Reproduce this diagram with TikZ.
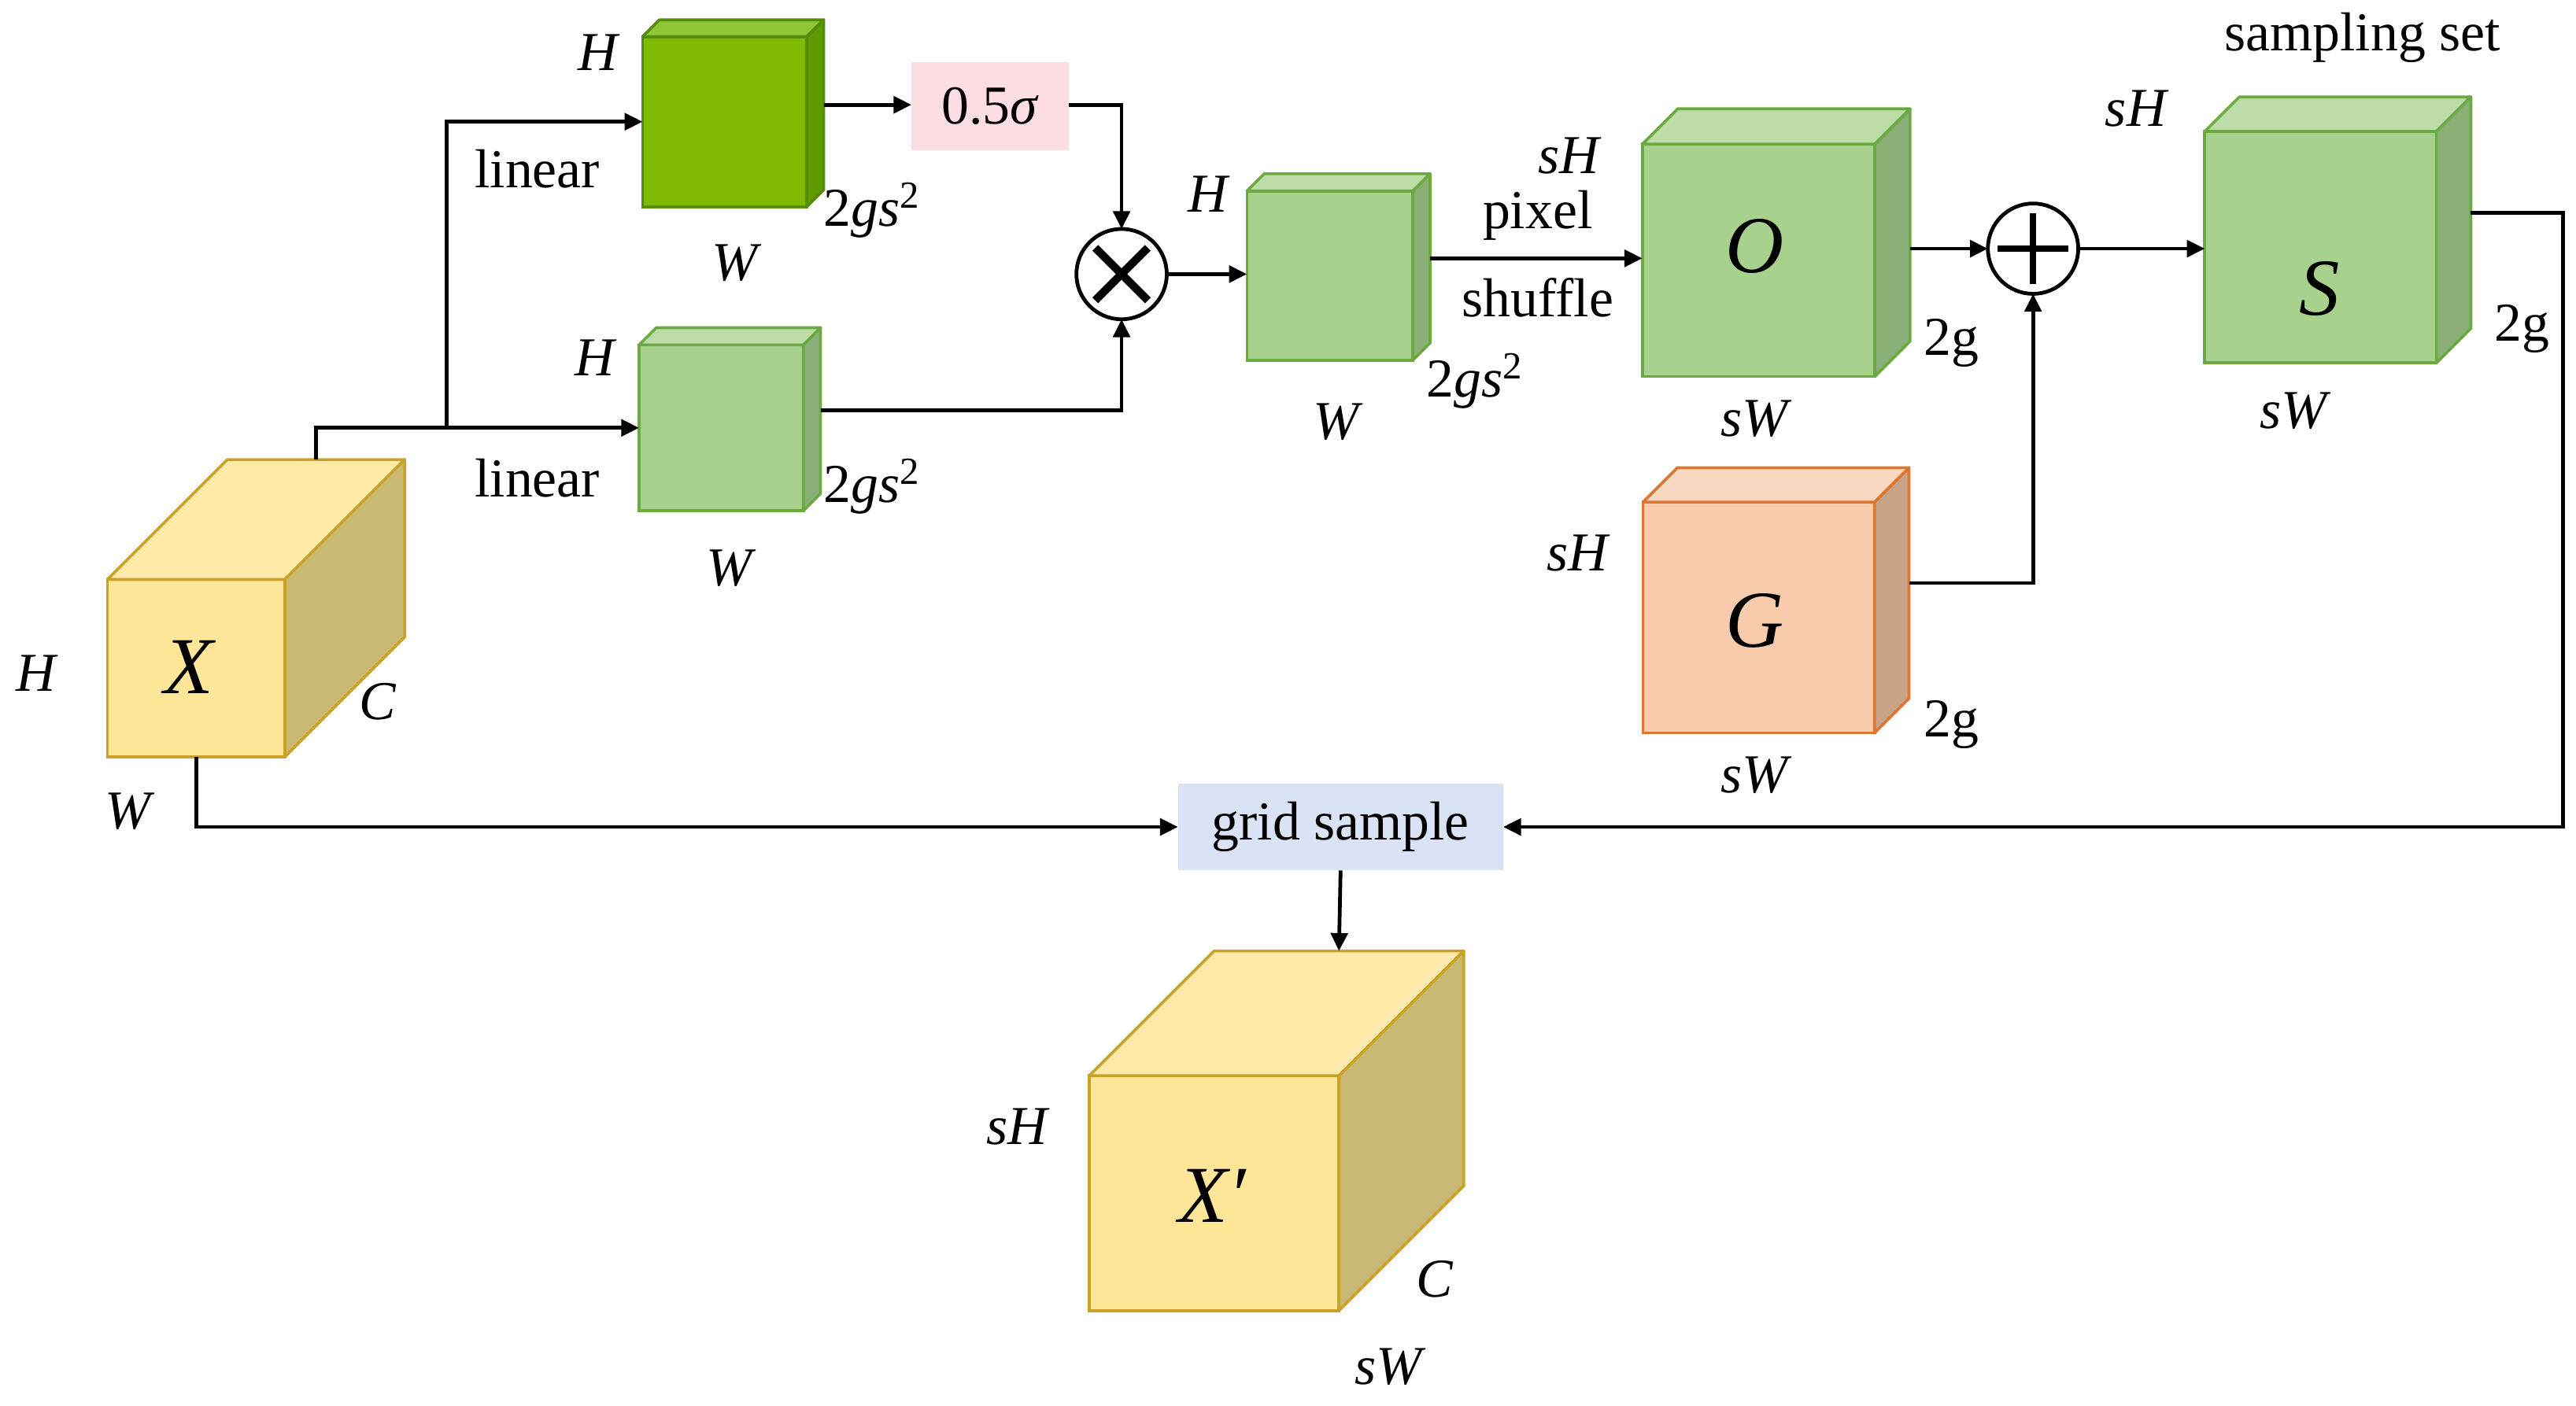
\documentclass[tikz,border=0pt]{standalone}
\usepackage{fontspec}
\setmainfont{Liberation Serif}
\usetikzlibrary{arrows.meta}

\definecolor{yfront}{HTML}{FFE699}
\definecolor{ytop}{HTML}{FFEAAA}
\definecolor{yside}{HTML}{C9B874}
\definecolor{yline}{HTML}{C9A227}
\definecolor{dgfront}{HTML}{7FBA00}
\definecolor{dgtop}{HTML}{8EC63A}
\definecolor{dgside}{HTML}{5E9A00}
\definecolor{dgline}{HTML}{558C0A}
\definecolor{lgfront}{HTML}{A9D18E}
\definecolor{lgtop}{HTML}{BDDCA8}
\definecolor{lgside}{HTML}{8AB078}
\definecolor{lgline}{HTML}{6AAA40}
\definecolor{ogfront}{HTML}{F8CBAD}
\definecolor{ogtop}{HTML}{FAD9C3}
\definecolor{ogside}{HTML}{C8A387}
\definecolor{ogline}{HTML}{DC7832}
\definecolor{sigfill}{HTML}{FCDDE2}
\definecolor{gridfill}{HTML}{DAE3F3}

\begin{document}
\begin{tikzpicture}[
  x=0.02cm, y=-0.02cm,
  font=\fontsize{19}{22}\selectfont,
  face/.style={draw,line width=1pt,inner sep=0pt,outer sep=0pt},
  yface/.style={face,draw=yline,fill=yfront},
  dgface/.style={face,draw=dgline,fill=dgfront},
  lgface/.style={face,draw=lgline,fill=lgfront},
  ogface/.style={face,draw=ogline,fill=ogfront},
  big/.style={font=\fontsize{28}{30}\selectfont\itshape,inner sep=0pt},
  dim/.style={font=\fontsize{19}{22}\selectfont\itshape,inner sep=0pt},
  txt/.style={inner sep=0pt},
  opbox/.style={inner sep=0pt,outer sep=0pt},
  opcirc/.style={circle,draw,line width=1.3pt,minimum size=1.1cm,inner sep=0pt,outer sep=0pt},
  arr/.style={-{Triangle[length=6.2pt,width=5.8pt]},line width=1.3pt},
]
\useasboundingbox (0,0) rectangle (1568,856);

% ---- Front faces of the tensors ---------------------------------------------
\node[yface,  minimum width=2.16cm, minimum height=2.16cm] (X)  at (119.4,406.8) {};
\node[dgface, minimum width=2.00cm, minimum height=2.07cm] (B1) at (441.1,74.1)  {};
\node[lgface, minimum width=2.00cm, minimum height=2.02cm] (B2) at (439,260.5)   {};
\node[lgface, minimum width=2.02cm, minimum height=2.06cm] (B3) at (809.5,167.8) {};
\node[lgface, minimum width=2.83cm, minimum height=2.83cm] (O)  at (1070.4,158.5){};
\node[ogface, minimum width=2.82cm, minimum height=2.81cm] (G)  at (1070.5,376)  {};
\node[lgface, minimum width=2.82cm, minimum height=2.82cm] (S)  at (1412.5,150.5){};
\node[yface,  minimum width=3.04cm, minimum height=2.86cm] (Xp) at (739,726.5)   {};

% ---- Top and side faces -----------------------------------------------------
\foreach \n/\d/\tc/\sc/\lc in {X/73/ytop/yside/yline, Xp/76/ytop/yside/yline,
    B1/10.3/dgtop/dgside/dgline, B2/10.5/lgtop/lgside/lgline, B3/10.5/lgtop/lgside/lgline,
    O/21.5/lgtop/lgside/lgline, G/21/ogtop/ogside/ogline, S/21/lgtop/lgside/lgline}{
  \draw[line width=1pt,draw=\lc,fill=\tc,line join=round]
    (\n.north west) -- ++(\d,-\d) -- ([shift={(\d,-\d)}]\n.north east) -- (\n.north east) -- cycle;
  \draw[line width=1pt,draw=\lc,fill=\sc,line join=round]
    (\n.north east) -- ([shift={(\d,-\d)}]\n.north east) -- ([shift={(\d,-\d)}]\n.south east) -- (\n.south east) -- cycle;
  \coordinate (\n-bk) at ([shift={(\d,-\d)}]\n.east);
}

% ---- Tensor names -----------------------------------------------------------
\node[big] (Xlbl)  at (115,406)  {X};
\node[big] (Olbl)  at (1068,150) {O};
\node[big] (Glbl)  at (1068,378) {G};
\node[big] (Slbl)  at (1412,176) {S};
\node[big] (Xplbl) at (738,728)  {X′};

% ---- Operators --------------------------------------------------------------
\node[opbox,fill=sigfill,minimum width=1.92cm,minimum height=1.08cm] (sig) at (602.8,64.7) {0.5\textit{σ}};
\node[opbox,fill=gridfill,minimum width=3.96cm,minimum height=1.06cm] (grid) at (816,503.5) {grid sample};
\node[opcirc] (mul) at (682.7,166.9) {};
\node[opcirc] (add) at (1237.5,151.4) {};
\draw[line width=2.8pt] ([shift={(-16,-16)}]mul.center) -- ([shift={(16,16)}]mul.center);
\draw[line width=2.8pt] ([shift={(-16,16)}]mul.center) -- ([shift={(16,-16)}]mul.center);
\draw[line width=2pt] ([xshift=-0.43cm]add.center) -- ([xshift=0.43cm]add.center);
\draw[line width=2pt] ([yshift=-0.43cm]add.center) -- ([yshift=0.43cm]add.center);

% ---- Dimension labels -------------------------------------------------------
\node[dim] (XH)  at (22,410)   {H};
\node[dim] (XC)  at (230,427)  {C};
\node[dim] (XW)  at (78,494)   {W};
\node[dim] (B1H) at (364,32)   {H};
\node[dim] (B1W) at (447,160)  {W};
\node[dim] (B1C) at (531,128)  {\upshape 2\textit{gs}\textsuperscript{2}};
\node[dim] (B2H) at (362,218)  {H};
\node[dim] (B2W) at (444,346)  {W};
\node[dim] (B2C) at (531,296)  {\upshape 2\textit{gs}\textsuperscript{2}};
\node[dim] (B3H) at (735,118)  {H};
\node[dim] (B3W) at (813,257)  {W};
\node[dim] (B3C) at (898,232)  {\upshape 2\textit{gs}\textsuperscript{2}};
\node[dim] (OH)  at (955,95)   {sH};
\node[dim] (OW)  at (1068,255) {sW};
\node[txt] (OC)  at (1188,209) {2g};
\node[dim] (GH)  at (960,337)  {sH};
\node[dim] (GW)  at (1068,472) {sW};
\node[txt] (GC)  at (1188,441) {2g};
\node[dim] (SH)  at (1300,66)  {sH};
\node[dim] (SW)  at (1396,250) {sW};
\node[txt] (SC)  at (1535,200) {2g};
\node[dim] (XpH) at (619,686)  {sH};
\node[dim] (XpC) at (873,779)  {C};
\node[dim] (XpW) at (845,832)  {sW};

% ---- Operation texts --------------------------------------------------------
\node[txt] (lin1) at (327,103)  {linear};
\node[txt] (lin2) at (327,291)  {linear};
\node[txt] (pix)  at (936,131)  {pixel};
\node[txt] (shuf) at (936,181)  {shuffle};
\node[txt] (sset) at (1438,23)  {sampling set};

% ---- Connectors -------------------------------------------------------------
\coordinate (Xtop) at ([shift={(73,-73)}]X.north);
\coordinate (fork) at (272,260.5);
\coordinate (Xptop) at ([shift={(76,-76)}]Xp.north);
\draw[arr] (Xtop) |- (B2.west);
\draw[arr] (fork) |- (B1.west);
\draw[arr] (B1-bk) -- (B1-bk -| sig.west);
\draw[arr] (sig.east |- B1-bk) -| (mul.north);
\draw[arr] (B2-bk) -| (mul.south);
\draw[arr] (mul.east) -- (mul.east -| B3.west);
\draw[arr] (B3-bk) -- (B3-bk -| O.west);
\draw[arr] (O-bk |- add) -- (add.west);
\draw[arr] (G-bk) -| (add.south);
\draw[arr] (add.east) -- (add.east -| S.west);
\draw[arr] (S-bk) -- ++(56,0) |- (grid.east);
\draw[arr] (X.south) |- (grid.west);
\draw[arr] (grid.south) -- (Xptop);

\end{tikzpicture}
\end{document}
